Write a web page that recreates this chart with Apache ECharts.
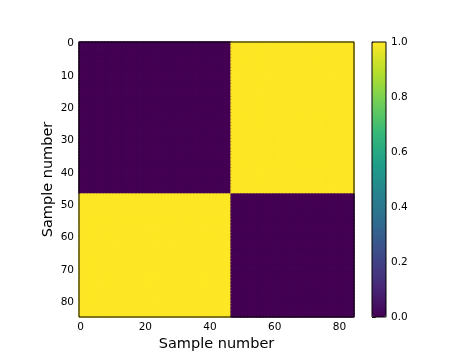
<!doctype html>
<html>

<head>
    <meta charset="utf-8">
    <title>Sample matrix</title>
    <script src="https://cdn.jsdelivr.net/npm/echarts@6/dist/echarts.min.js"></script>
    <style>
        html, body { margin: 0; padding: 0; background: #fff; }
    </style>
</head>

<body>
    <div id="container" style="width:474px;height:355px;"></div>
    <script type="text/javascript">
        // 两组样本的大小，以及组与组之间的取值
        var groupSizes = [47, 38];
        var blockValues = [
            [0, 1],
            [1, 0]
        ];
        var xTickStep = 20;
        var yTickStep = 10;
        var barTicks = [0, 0.2, 0.4, 0.6, 0.8, 1.0];
        var viridis = ['#440154', '#482878', '#3e4989', '#31688e', '#26828e',
            '#1f9e89', '#35b779', '#6ece58', '#b5de2b', '#fde725'];

        // 样本编号与每个样本所属的组
        var samples = [];
        var groupOf = [];
        for (var g = 0; g < groupSizes.length; g++) {
            for (var k = 0; k < groupSizes[g]; k++) {
                groupOf.push(g);
                samples.push(String(samples.length));
            }
        }
        // 用同色描边盖住相邻格子间的细缝
        function cellColor(v) {
            return viridis[Math.round(v * (viridis.length - 1))];
        }
        var cells = [];
        for (var i = 0; i < samples.length; i++) {
            for (var j = 0; j < samples.length; j++) {
                var v = blockValues[groupOf[i]][groupOf[j]];
                cells.push({
                    value: [j, i, v],
                    itemStyle: { borderColor: cellColor(v), borderWidth: 0.8 }
                });
            }
        }

        var tickFont = { color: '#000', fontSize: 10.5, fontFamily: 'DejaVu Sans' };
        var nameFont = { color: '#000', fontSize: 14.5, fontFamily: 'DejaVu Sans' };

        var option = {
            animation: false,
            grid: [
                { left: 79, top: 42, width: 275, height: 275, show: true, z: 3, outerBoundsMode: 'none',
                  borderColor: '#000', borderWidth: 1, backgroundColor: 'transparent' },
                { left: 372, top: 42, width: 14, height: 275, show: true, z: 6, outerBoundsMode: 'none',
                  borderColor: '#000', borderWidth: 1, backgroundColor: 'transparent' }
            ],
            xAxis: [
                {
                    type: 'category', gridIndex: 0, data: samples, position: 'bottom',
                    name: 'Sample number', nameLocation: 'middle', nameGap: 20,
                    nameMoveOverlap: false, nameTextStyle: nameFont,
                    axisLine: { show: false },
                    axisTick: { alignWithLabel: true, length: 3.5, lineStyle: { color: '#000' },
                        interval: function (idx) { return idx % xTickStep === 0; } },
                    axisLabel: Object.assign({ margin: 5,
                        interval: function (idx) { return idx % xTickStep === 0; } }, tickFont),
                    splitLine: { show: false }
                },
                { type: 'value', gridIndex: 1, min: 0, max: 1, show: false }
            ],
            yAxis: [
                {
                    type: 'category', gridIndex: 0, data: samples, inverse: true, position: 'left',
                    name: 'Sample number', nameLocation: 'middle', nameGap: 23,
                    nameMoveOverlap: false, nameTextStyle: nameFont,
                    axisLine: { show: false },
                    axisTick: { alignWithLabel: true, length: 3.5, lineStyle: { color: '#000' },
                        interval: function (idx) { return idx % yTickStep === 0; } },
                    axisLabel: Object.assign({ margin: 5,
                        interval: function (idx) { return idx % yTickStep === 0; } }, tickFont),
                    splitLine: { show: false }
                },
                {
                    type: 'value', gridIndex: 1, min: 0, max: 1, interval: 0.2, position: 'right',
                    axisLine: { show: false },
                    axisTick: { show: true, length: 3.5, lineStyle: { color: '#000' } },
                    axisLabel: Object.assign({ margin: 5,
                        formatter: function (v) { return v.toFixed(1); } }, tickFont),
                    splitLine: { show: false }
                }
            ],
            visualMap: {
                type: 'continuous', min: 0, max: 1, seriesIndex: 0,
                left: 372, top: 42, itemWidth: 14, itemHeight: 275, padding: 0,
                calculable: false, inRange: { color: viridis }
            },
            series: [
                {
                    type: 'heatmap', xAxisIndex: 0, yAxisIndex: 0,
                    data: cells, progressive: 0,
                    emphasis: { disabled: true }
                }
            ]
        };

        var myChart = echarts.init(document.getElementById('container'));
        myChart.setOption(option);
    </script>
</body>

</html>
